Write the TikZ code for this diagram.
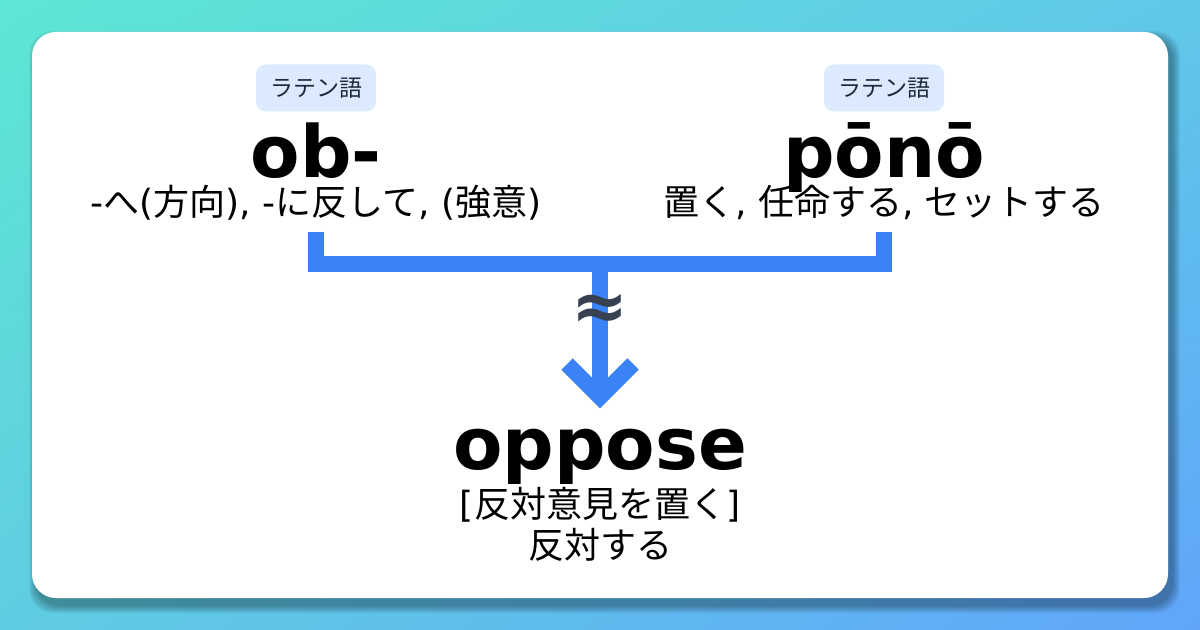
\documentclass[tikz,border=0pt]{standalone}
\usepackage{fontspec}
\setmainfont{DejaVu Sans}
\newfontfamily\cjk{Noto Sans CJK JP}
\newcommand\jp[1]{{\cjk #1}}
\usepackage{tikz}
\usetikzlibrary{positioning,calc,shadings}
\definecolor{FondoTL}{RGB}{94,230,212}
\definecolor{FondoTR}{RGB}{95,200,232}
\definecolor{FondoBL}{RGB}{95,205,225}
\definecolor{FondoBR}{RGB}{96,165,250}
\definecolor{AzulLinea}{RGB}{59,130,246}
\definecolor{AzulTag}{RGB}{219,234,254}
\definecolor{TextoTag}{RGB}{31,41,55}
\definecolor{Pizarra}{RGB}{55,65,81}
\begin{document}
\begin{tikzpicture}[x=0.5pt,y=-0.5pt,
  palabra/.style={anchor=base,inner sep=0pt,font=\fontsize{36}{40}\selectfont\bfseries},
  glosa/.style={anchor=base,inner sep=0pt,font=\fontsize{18}{21}\selectfont},
  etiqueta/.style={fill=AzulTag,text=TextoTag,rounded corners=5pt,minimum width=60pt,
    minimum height=23.5pt,inner sep=0pt,font=\fontsize{11.5}{13}\cjk},
  rama/.style={AzulLinea,line width=8pt,miter limit=10}]
  \useasboundingbox (0,0) rectangle (1200,630);
  \shade[upper left=FondoTL,upper right=FondoTR,lower left=FondoBL,lower right=FondoBR]
    (0,0) rectangle (1200,630);
  % sombra de la tarjeta
  \foreach \s in {1,...,8}
    \fill[black,opacity=0.045,rounded corners=12pt]
      (37-\s,39-\s) rectangle (1172+\s,605+\s);
  \fill[white,rounded corners=12pt] (32,32) rectangle (1168,598);
  % palabras de origen
  \node[etiqueta] (tagOb) at (316,88) {ラテン語};
  \node[etiqueta] (tagPono) at (884,88) {ラテン語};
  \node[palabra] (ob) at (316,178) {ob-};
  \node[palabra] (pono) at (884,178) {pōnō};
  \node[glosa] (glosaOb) at (316,216) {-\jp{へ}(\jp{方向}), -\jp{に反して}, (\jp{強意})};
  \node[glosa] (glosaPono) at (884,216) {\jp{置く}, \jp{任命する}, \jp{セットする}};
  \coordinate (izq) at (316,232);
  \coordinate (der) at (884,232);
  \coordinate (union) at (600,264);
  \coordinate (punta) at (600,397);
  \draw[rama] (izq) |- (union) -| (der);
  \draw[rama] (union) -- (punta);
  \draw[rama] ($(punta)+(-33,-33)$) -- (punta) -- ($(punta)+(33,-33)$);
  \node[text=Pizarra,font=\fontsize{34}{36}\selectfont\bfseries] (aprox) at (600,312) {≈};
  % palabra resultante
  \node[palabra] (oppose) at (600,470) {oppose};
  \node[glosa] (literal) at (600,518) {[\jp{反対意見を置く}]};
  \node[glosa] (sentido) at (600,559) {\jp{反対する}};
\end{tikzpicture}
\end{document}
